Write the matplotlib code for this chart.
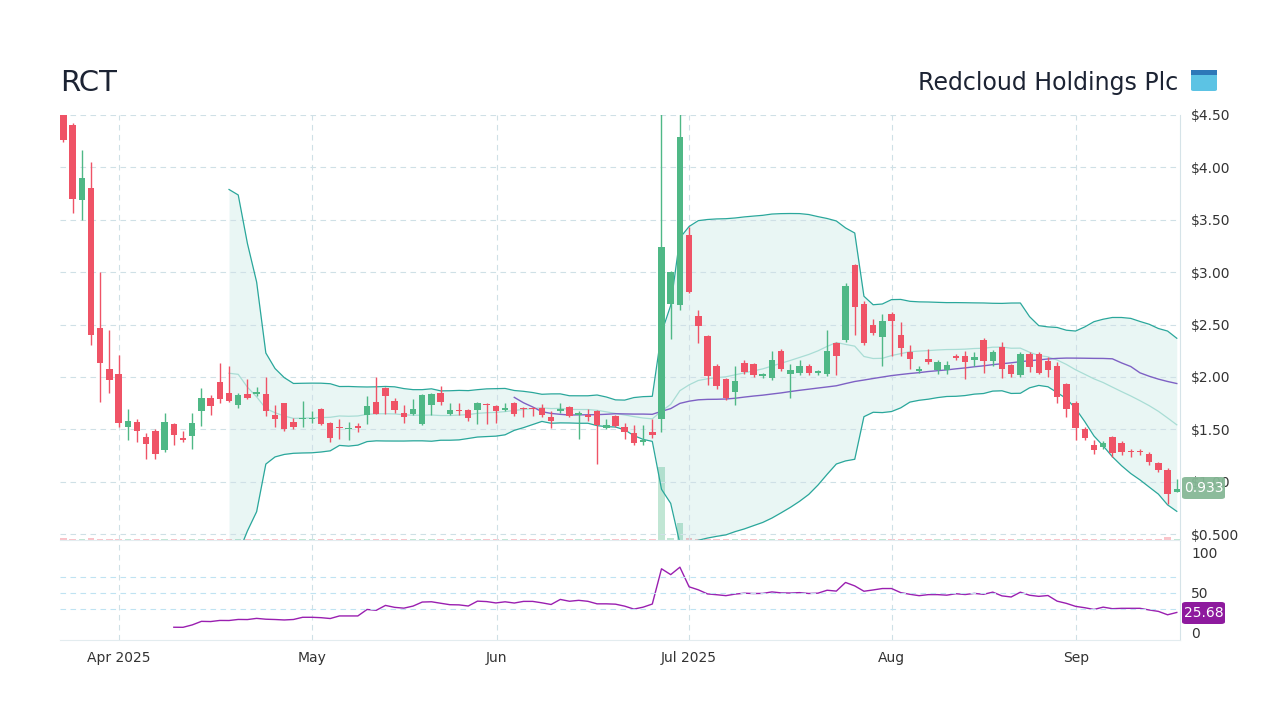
import numpy as np
import pandas as pd
import matplotlib
matplotlib.use("Agg")
import matplotlib.pyplot as plt
from matplotlib.patches import FancyBboxPatch, Rectangle

ticker = "RCT"
company = "Redcloud Holdings Plc"

opens = [4.62,4.40,3.69,3.80,2.47,2.08,2.03,1.52,1.57,1.43,1.48,1.30,1.55,1.42,1.44,1.67,1.80,1.95,1.85,1.73,
         1.84,1.84,1.84,1.64,1.75,1.57,1.60,1.60,1.69,1.56,1.52,1.50,1.53,1.64,1.76,1.89,1.77,1.66,1.65,1.55,
         1.73,1.85,1.65,1.68,1.68,1.68,1.74,1.72,1.68,1.75,1.70,1.70,1.70,1.62,1.67,1.71,1.64,1.64,1.67,1.51,
         1.63,1.52,1.46,1.38,1.47,1.60,2.70,2.69,3.35,2.58,2.39,2.10,1.98,1.86,2.13,2.12,2.01,1.99,2.25,2.03,
         2.04,2.10,2.04,2.03,2.32,2.35,3.07,2.70,2.50,2.38,2.60,2.40,2.24,2.06,2.17,2.07,2.07,2.20,2.20,2.16,
         2.35,2.15,2.29,2.11,2.02,2.22,2.22,2.15,2.10,1.93,1.75,1.50,1.35,1.33,1.43,1.37,1.29,1.29,1.26,1.18,
         1.11,0.90]
closes = [4.26,3.70,3.90,2.40,2.13,1.97,1.56,1.58,1.48,1.36,1.26,1.57,1.45,1.40,1.56,1.80,1.72,1.79,1.77,1.83,
          1.80,1.86,1.67,1.60,1.50,1.52,1.61,1.61,1.55,1.42,1.51,1.51,1.51,1.72,1.65,1.82,1.68,1.62,1.69,1.83,
          1.84,1.76,1.68,1.67,1.61,1.75,1.73,1.67,1.70,1.65,1.69,1.69,1.64,1.58,1.69,1.63,1.65,1.62,1.54,1.54,
          1.53,1.47,1.37,1.40,1.45,3.24,3.00,4.29,2.81,2.49,2.01,1.91,1.80,1.96,2.05,2.02,2.03,2.16,2.08,2.07,
          2.10,2.04,2.06,2.25,2.20,2.87,2.67,2.32,2.42,2.53,2.53,2.28,2.17,2.08,2.14,2.14,2.11,2.18,2.14,2.19,
          2.15,2.24,2.08,2.03,2.22,2.09,2.04,2.07,1.81,1.69,1.51,1.42,1.30,1.37,1.27,1.28,1.28,1.28,1.19,1.11,
          0.88,0.933]
highs = [4.70,4.42,4.17,4.05,3.00,2.45,2.21,1.69,1.60,1.46,1.50,1.66,1.56,1.48,1.66,1.89,1.83,2.13,2.10,1.85,
         1.98,1.90,2.00,1.73,1.75,1.61,1.77,1.67,1.70,1.57,1.60,1.57,1.56,1.82,2.00,1.90,1.80,1.73,1.79,1.84,
         1.85,1.91,1.75,1.75,1.69,1.76,1.75,1.73,1.75,1.76,1.71,1.71,1.74,1.67,1.75,1.72,1.67,1.69,1.68,1.60,
         1.64,1.56,1.54,1.54,1.60,4.60,3.01,4.60,3.43,2.64,2.40,2.12,1.99,2.10,2.16,2.13,2.04,2.25,2.27,2.12,
         2.16,2.12,2.07,2.45,2.33,2.90,3.08,2.72,2.55,2.60,2.62,2.52,2.30,2.10,2.27,2.16,2.15,2.22,2.25,2.24,
         2.37,2.26,2.33,2.12,2.24,2.24,2.24,2.19,2.14,1.94,1.77,1.52,1.40,1.39,1.44,1.39,1.31,1.31,1.28,1.19,
         1.13,1.03]
lows = [4.24,3.56,3.50,2.30,1.76,1.85,1.52,1.40,1.38,1.22,1.22,1.28,1.35,1.38,1.31,1.53,1.64,1.75,1.76,1.70,
        1.79,1.82,1.63,1.52,1.48,1.50,1.52,1.56,1.54,1.38,1.41,1.40,1.47,1.55,1.65,1.65,1.66,1.56,1.64,1.54,
        1.64,1.73,1.64,1.64,1.58,1.55,1.55,1.56,1.67,1.63,1.62,1.63,1.62,1.51,1.66,1.62,1.41,1.58,1.17,1.50,
        1.52,1.41,1.35,1.35,1.42,1.47,2.36,2.64,2.80,2.32,1.92,1.88,1.78,1.73,2.03,2.00,1.99,1.97,2.06,1.80,
        2.02,2.02,2.02,2.01,2.02,2.33,2.40,2.30,2.40,2.10,2.20,2.20,2.08,2.04,2.12,2.03,2.03,2.16,1.98,2.10,
        2.04,2.10,1.99,2.00,2.00,2.05,2.03,2.00,1.75,1.62,1.40,1.40,1.26,1.31,1.24,1.25,1.24,1.25,1.16,1.09,
        0.79,0.90]
volumes = [3,2,2,3,2,1,1,1,1,1,1,1,1,1,1,1,1,1,1,1,1,1,1,1,1,1,1,1,1,1,1,1,1,1,1,1,1,1,1,1,
           1,1,1,1,1,1,1,1,1,1,1,1,1,1,1,1,1,1,1,1,1,1,1,1,1,100,3,23,3,2,1,1,1,1,1,1,1,1,1,1,
           1,1,1,1,1,2,2,1,1,1,1,1,1,1,1,1,1,1,1,1,1,1,1,1,1,1,1,1,1,2,1,1,1,1,1,1,1,1,1,1,
           4,1]

holidays = ["2025-04-18", "2025-05-26", "2025-06-19", "2025-07-04", "2025-09-01"]
dates = pd.bdate_range("2025-03-24", "2025-09-16")
dates = dates[~dates.isin(pd.to_datetime(holidays))]

o = np.array(opens); c = np.array(closes); h = np.array(highs); l = np.array(lows)
v = np.array(volumes, dtype=float)
x = np.arange(len(c))
s = pd.Series(c)
mid = s.rolling(20, min_periods=19).mean()
sd = s.rolling(20, min_periods=19).std(ddof=0)
up = mid + 2 * sd
lo = mid - 2 * sd
sma50 = s.rolling(50).mean()
d = s.diff()
gain = d.clip(lower=0).ewm(alpha=1/14, adjust=False, min_periods=12).mean()
loss = (-d.clip(upper=0)).ewm(alpha=1/14, adjust=False, min_periods=12).mean()
rsi = 100 - 100 / (1 + gain / loss)

GREEN = "#4fb886"; RED = "#ef5366"; TEAL = "#2aa79b"; GRID = "#cfe0e6"

fig = plt.figure(figsize=(12.8, 7.2), dpi=100)
ax = fig.add_axes([60/1280, 180/720, 1120/1280, 425/720])
axr = fig.add_axes([60/1280, 80/720, 1120/1280, 100/720], sharex=ax)

axv = ax.twinx()
vcol = [GREEN if cc >= oo else RED for oo, cc in zip(o, c)]
axv.bar(x, v, width=0.7, color=vcol, alpha=0.35, zorder=1)
axv.set_ylim(0, 582)
axv.axis("off")
ax.set_zorder(axv.get_zorder() + 1); ax.patch.set_visible(False)

ax.fill_between(x, lo, up, color=TEAL, alpha=0.1, lw=0)
ax.plot(x, up, color=TEAL, lw=0.9)
ax.plot(x, lo, color=TEAL, lw=0.9)
ax.plot(x, mid, color="#a9ddd5", lw=0.9)
ax.plot(x, sma50, color="#7e61c4", lw=1.0)

for i in range(len(c)):
    col = GREEN if c[i] >= o[i] else RED
    ax.vlines(x[i], l[i], h[i], color=col, lw=1.0, zorder=3)
    b = min(o[i], c[i]); ht = max(abs(c[i] - o[i]), 0.012)
    ax.add_patch(Rectangle((x[i] - 0.35, b), 0.7, ht, color=col, zorder=4, lw=0))

ax.set_xlim(-0.37, 121.35)
ax.set_ylim(0.443, 4.5)
yt = [0.5, 1.0, 1.5, 2.0, 2.5, 3.0, 3.5, 4.0, 4.5]
ax.set_yticks(yt)
ax.set_yticklabels(["$0.500"] + [f"${t:.2f}" for t in yt[1:]])
ax.yaxis.tick_right()

mpos, mlab = [], []
for m in range(4, 10):
    idx = int(np.argmax((dates.month == m)))
    mpos.append(idx - 0.9 * (dates[idx].day - 1))
    mlab.append(dates[idx].strftime("%b %Y") if m in (4, 7) else dates[idx].strftime("%b"))

for a in (ax, axr):
    a.set_xticks(mpos)
    a.grid(True, color=GRID, ls=(0, (5, 4)), lw=0.8)
    for sp in ["top", "left"]:
        a.spines[sp].set_visible(False)
    a.spines["right"].set_color("#d5e3e8")
    a.spines["bottom"].set_color("#e3ecef")
    a.tick_params(length=0, labelsize=10, colors="#333333")
ax.tick_params(labelbottom=False, pad=8)
axr.set_xticklabels(mlab)
axr.tick_params(axis="x", pad=8)
axr.tick_params(axis="y", pad=8)

axr.plot(x, rsi, color="#9a1fb0", lw=1.0)
axr.set_ylim(-8.75, 116.25)
axr.set_yticks([0, 50, 100])
axr.yaxis.tick_right()
axr.grid(False, axis="y")
for lvl in (30, 50, 70):
    axr.axhline(lvl, color="#bfe3f2", ls=(0, (5, 4)), lw=0.8)

fig.add_artist(FancyBboxPatch((1182/1280, (720-499)/720), 43/1280, 22/720,
               boxstyle="round,pad=0,rounding_size=0.003", transform=fig.transFigure,
               color="#86b896", lw=0, alpha=0.95, zorder=10))
fig.text(1203.5/1280, (720-488)/720, f"{c[-1]:.3f}", color="white", ha="center", va="center", fontsize=10, zorder=11)
fig.add_artist(FancyBboxPatch((1182/1280, (720-624)/720), 43/1280, 22/720,
               boxstyle="round,pad=0,rounding_size=0.003", transform=fig.transFigure,
               color="#8e1a9e", lw=0, zorder=10))
fig.text(1203.5/1280, (720-613)/720, f"{rsi.iloc[-1]:.2f}", color="white", ha="center", va="center", fontsize=10, zorder=11)

fig.text(60/1280, (720-83)/720, ticker, fontsize=21, color="#1c2333", va="center", ha="left")
fig.text(1178/1280, (720-83)/720, company, fontsize=17, color="#1c2333", va="center", ha="right")
fig.add_artist(FancyBboxPatch((1191/1280, (720-91)/720), 26/1280, 21/720,
               boxstyle="round,pad=0,rounding_size=0.002", transform=fig.transFigure,
               color="#5cc3e4", lw=0))
fig.add_artist(Rectangle((1191/1280, (720-75)/720), 26/1280, 5/720,
               transform=fig.transFigure, color="#2d78b8", lw=0))

fig.savefig("out.png", dpi=100)
